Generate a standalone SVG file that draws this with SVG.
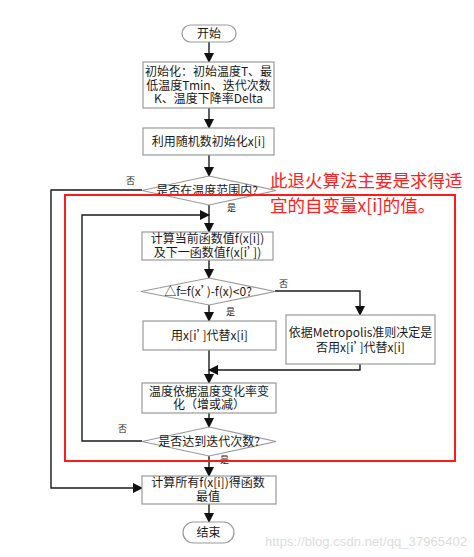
<svg xmlns="http://www.w3.org/2000/svg" width="474" height="557" viewBox="0 0 474 557">
<style>
.box{fill:#fff;stroke:#9a9a9a;stroke-width:1.2}
.t{font-family:"Noto Sans CJK SC","Liberation Sans",sans-serif;font-size:12px;fill:#1a1a1a;text-anchor:middle}
.s{font-family:"Noto Sans CJK SC",sans-serif;font-size:9px;fill:#1a1a1a}
.ln{fill:none;stroke:#1a1a1a;stroke-width:1.4}
.red{font-family:"Noto Sans CJK SC",sans-serif;font-size:17.5px;fill:#ff2020}
</style>
<defs>
<marker id="ah" markerWidth="10" markerHeight="10" refX="9" refY="5" orient="auto" markerUnits="userSpaceOnUse">
<path d="M0,0 L10,5 L0,10 Z" fill="#111"/>
</marker>
</defs>
<rect width="474" height="557" fill="#fff"/>
<g id="connectors">
<path class="ln" d="M209,42 V62" marker-end="url(#ah)"/>
<path class="ln" d="M209,108 V128" marker-end="url(#ah)"/>
<path class="ln" d="M209,155 V176" marker-end="url(#ah)"/>
<path class="ln" d="M209,205 V232" marker-end="url(#ah)"/>
<path class="ln" d="M142,190 H51 V488 H142" marker-end="url(#ah)"/>
<path class="ln" d="M142,441 H82 V215 H209" marker-end="url(#ah)"/>
<path class="ln" d="M209,260 V278" marker-end="url(#ah)"/>
<path class="ln" d="M209,305 V321" marker-end="url(#ah)"/>
<path class="ln" d="M275,291 H360 V315" marker-end="url(#ah)"/>
<path class="ln" d="M209,350 V383" marker-end="url(#ah)"/>
<path class="ln" d="M360,364 V370 H209" marker-end="url(#ah)"/>
<path class="ln" d="M209,413 V427" marker-end="url(#ah)"/>
<path class="ln" d="M209,456 V476" marker-end="url(#ah)"/>
<path class="ln" d="M209,504 V522" marker-end="url(#ah)"/>
<text class="s" x="126" y="184">否</text>
<text class="s" x="227" y="211">是</text>
<text class="s" x="279" y="287">否</text>
<text class="s" x="226" y="315">是</text>
<text class="s" x="118" y="432">否</text>
<text class="s" x="220" y="463">是</text>
</g>
<g id="start">
<rect class="box" x="182" y="25" width="54" height="17" rx="8.5"/>
<text class="t" x="209" y="38">开始</text>
</g>
<g id="init">
<rect class="box" x="143" y="62" width="131" height="46"/>
<text class="t" x="208.5" y="76">初始化：初始温度T、最</text>
<text class="t" x="208.5" y="89.5">低温度Tmin、迭代次数</text>
<text class="t" x="208.5" y="103">K、温度下降率Delta</text>
</g>
<g id="rand">
<rect class="box" x="143" y="128" width="131" height="27"/>
<text class="t" x="208.5" y="146">利用随机数初始化x[i]</text>
</g>
<g id="cond1">
<polygon class="box" points="209,176 276,190.5 209,205 142,190.5"/>
<text class="t" x="207" y="194.5">是否在温度范围内?</text>
</g>
<g id="calc">
<rect class="box" x="142" y="232" width="131" height="28"/>
<text class="t" x="207.5" y="242.5">计算当前函数值f(x[i])</text>
<text class="t" x="207.5" y="256.5">及下一函数值f(x[i’])</text>
</g>
<g id="cond2">
<polygon class="box" points="209,278 275,291.5 209,305 141,291.5"/>
<text class="t" x="208" y="296">△f=f(x’)-f(x)&lt;0?</text>
</g>
<g id="replace">
<rect class="box" x="143" y="321" width="133" height="29"/>
<text class="t" x="209.5" y="340">用x[i’]代替x[i]</text>
</g>
<g id="metropolis">
<rect class="box" x="286" y="315" width="149" height="49"/>
<text class="t" x="360.5" y="336.5">依据Metropolis准则决定是</text>
<text class="t" x="360.5" y="351.5">否用x[i’]代替x[i]</text>
</g>
<g id="temp">
<rect class="box" x="142" y="383" width="134" height="30"/>
<text class="t" x="209" y="395.5">温度依据温度变化率变</text>
<text class="t" x="209" y="409">化（增或减）</text>
</g>
<g id="cond3">
<polygon class="box" points="209,427 276,441.5 209,456 142,441.5"/>
<text class="t" x="209" y="446">是否达到迭代次数?</text>
</g>
<g id="best">
<rect class="box" x="142" y="476" width="134" height="28"/>
<text class="t" x="208" y="486.5">计算所有f(x[i])得函数</text>
<text class="t" x="208" y="500.5">最值</text>
</g>
<g id="end">
<rect class="box" x="183" y="522" width="51" height="21" rx="10.5"/>
<text class="t" x="208.5" y="537">结束</text>
</g>
<g id="annotation">
<rect x="65" y="195" width="390" height="266" fill="none" stroke="#ff1a1a" stroke-width="2"/>
<text class="red" x="270" y="187">此退火算法主要是求得适</text>
<text class="red" x="270" y="212">宜的自变量x[i]的值。</text>
</g>
<text x="265" y="546" font-family="Liberation Sans,sans-serif" font-size="13" fill="#dcdcdc" textLength="202">https://blog.csdn.net/qq_37965402</text>
</svg>
